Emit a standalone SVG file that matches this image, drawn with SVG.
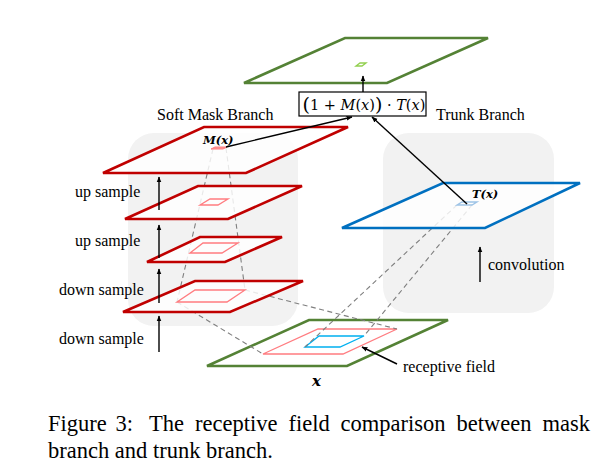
<svg xmlns="http://www.w3.org/2000/svg" width="596" height="469" viewBox="0 0 596 469">
<defs>
<marker id="ah" viewBox="0 0 10 10" refX="9" refY="5" markerWidth="6" markerHeight="6" orient="auto" markerUnits="userSpaceOnUse">
<path d="M0,1 L10,5 L0,9 z" fill="#000"/>
</marker>
<style>
.lbl{font-family:"Liberation Serif","Times New Roman",serif;font-size:16px;fill:#000}
.cap{font-family:"Liberation Serif","Times New Roman",serif;font-size:22.5px;fill:#000}
.math{font-family:"DejaVu Serif","Liberation Serif",serif;fill:#000}
.sym{font-family:"DejaVu Serif","Liberation Serif",serif;font-weight:bold;font-style:italic;fill:#000}
.box{fill:#f2f2f2}
.red{fill:#fff;fill-opacity:0.82;stroke:#c00000;stroke-width:2.6;stroke-linejoin:miter}
.blue{fill:#fff;fill-opacity:0.82;stroke:#0070c0;stroke-width:2.6}
.green{fill:#fff;fill-opacity:0.85;stroke:#548235;stroke-width:2.6}
.pink{fill:none;stroke:#ff7c80;stroke-width:1.3}
.dash{fill:none;stroke:#7f7f7f;stroke-width:1.1;stroke-dasharray:5,3.5}
.arr{fill:none;stroke:#000;stroke-width:1.4;marker-end:url(#ah)}
</style>
</defs>
<rect width="596" height="469" fill="#fff"/>

<g id="mask-branch-bg"><rect class="box" x="128" y="133" width="170" height="193" rx="26"/></g>
<g id="trunk-branch-bg"><rect class="box" x="383" y="133" width="171" height="180" rx="26"/></g>

<g id="input-x">
<polygon class="green" points="309,320 448,320 347,366 207,366"/>
<polygon class="pink" points="263,354 318,329 397,329 343,354"/>
<polygon fill="none" stroke="#00b0f0" stroke-width="1.3" points="305,347 319,336 364,336 340,347"/>
<text class="sym" x="312" y="386" font-size="15">x</text>
</g>

<g id="connectors">
<line class="dash" x1="213" y1="149" x2="177" y2="302"/>
<line class="dash" x1="226" y1="148" x2="245" y2="290"/>
<line class="dash" x1="177" y1="302" x2="263" y2="354"/>
<line class="dash" x1="245" y1="290" x2="397" y2="329"/>
<line class="dash" x1="457" y1="205" x2="305" y2="347"/>
<line class="dash" x1="472" y1="205" x2="364" y2="336"/>
</g>

<g id="mask-plane-1">
<polygon class="red" points="204,127 348,127 246,173 103,173"/>
<polygon fill="#ff9999" stroke="#ff7c80" stroke-width="1" points="211,149 215,147 227,147 223,149"/>
<text class="sym" x="203" y="144" font-size="11.5">M(x)</text>
</g>
<g id="mask-plane-2">
<polygon class="red" points="198,186 302,186 228,219 125,219"/>
<polygon class="pink" points="200,205 210,199 228,199 218,205"/>
</g>
<g id="mask-plane-3">
<polygon class="red" points="200,237 282,237 225,262 147,262"/>
<polygon class="pink" points="190,253 203,243 238,243 222,253"/>
</g>
<g id="mask-plane-4">
<polygon class="red" points="195,281 303,281 230,312 123,312"/>
<polygon class="pink" points="177,302 195,290 245,290 227,302"/>
</g>

<g id="trunk-plane">
<polygon class="blue" points="443,183 580,183 485,228 342,228"/>
<polygon fill="none" stroke="#9dc3e6" stroke-width="1.3" points="457,205 462,202 477,202 472,205"/>
<text class="sym" x="472" y="198" font-size="11.5">T(x)</text>
</g>

<g id="output-plane">
<polygon class="green" points="345,38 488,38 387,83 244,83"/>
<polygon fill="none" stroke="#92d050" stroke-width="1.3" points="356,66 360,63 366,63 362,66"/>
</g>

<g id="formula">
<rect x="299" y="92" width="127" height="24" fill="#fff" stroke="#000" stroke-width="1.2"/>
<text class="math" x="302.5" y="109.5" font-size="14.5"><tspan font-size="19" dy="1">(</tspan><tspan dy="-1">1 + </tspan><tspan font-style="italic">M</tspan>(<tspan font-style="italic">x</tspan>)<tspan font-size="19" dy="1">)</tspan><tspan dy="-1"> · </tspan><tspan font-style="italic">T</tspan>(<tspan font-style="italic">x</tspan>)</text>
</g>

<g id="arrows">
<line class="arr" x1="363" y1="92" x2="363" y2="76"/>
<line class="arr" x1="226" y1="147" x2="352" y2="117"/>
<line class="arr" x1="467" y1="204" x2="372" y2="117"/>
<line class="arr" x1="159" y1="210" x2="159" y2="177"/>
<line class="arr" x1="159" y1="258" x2="159" y2="225"/>
<line class="arr" x1="159" y1="303" x2="159" y2="269"/>
<line class="arr" x1="159" y1="352" x2="159" y2="316"/>
<line class="arr" x1="480" y1="282" x2="480" y2="247"/>
<line class="arr" x1="397" y1="364" x2="362" y2="347"/>
</g>

<g id="labels">
<text class="lbl" x="157" y="120">Soft Mask Branch</text>
<text class="lbl" x="436" y="120">Trunk Branch</text>
<text class="lbl" x="75" y="197">up sample</text>
<text class="lbl" x="75" y="246">up sample</text>
<text class="lbl" x="59" y="295">down sample</text>
<text class="lbl" x="59" y="344">down sample</text>
<text class="lbl" x="488" y="270">convolution</text>
<text class="lbl" x="403" y="372">receptive field</text>
</g>

<g id="caption">
<text class="cap" y="431"><tspan x="48">Figure</tspan><tspan x="115.5">3:</tspan><tspan x="149">The</tspan><tspan x="195">receptive</tspan><tspan x="288.5">field</tspan><tspan x="340.5">comparison</tspan><tspan x="456.5">between</tspan><tspan x="542.5">mask</tspan></text>
<text class="cap" x="48" y="458">branch and trunk branch.</text>
</g>
</svg>
